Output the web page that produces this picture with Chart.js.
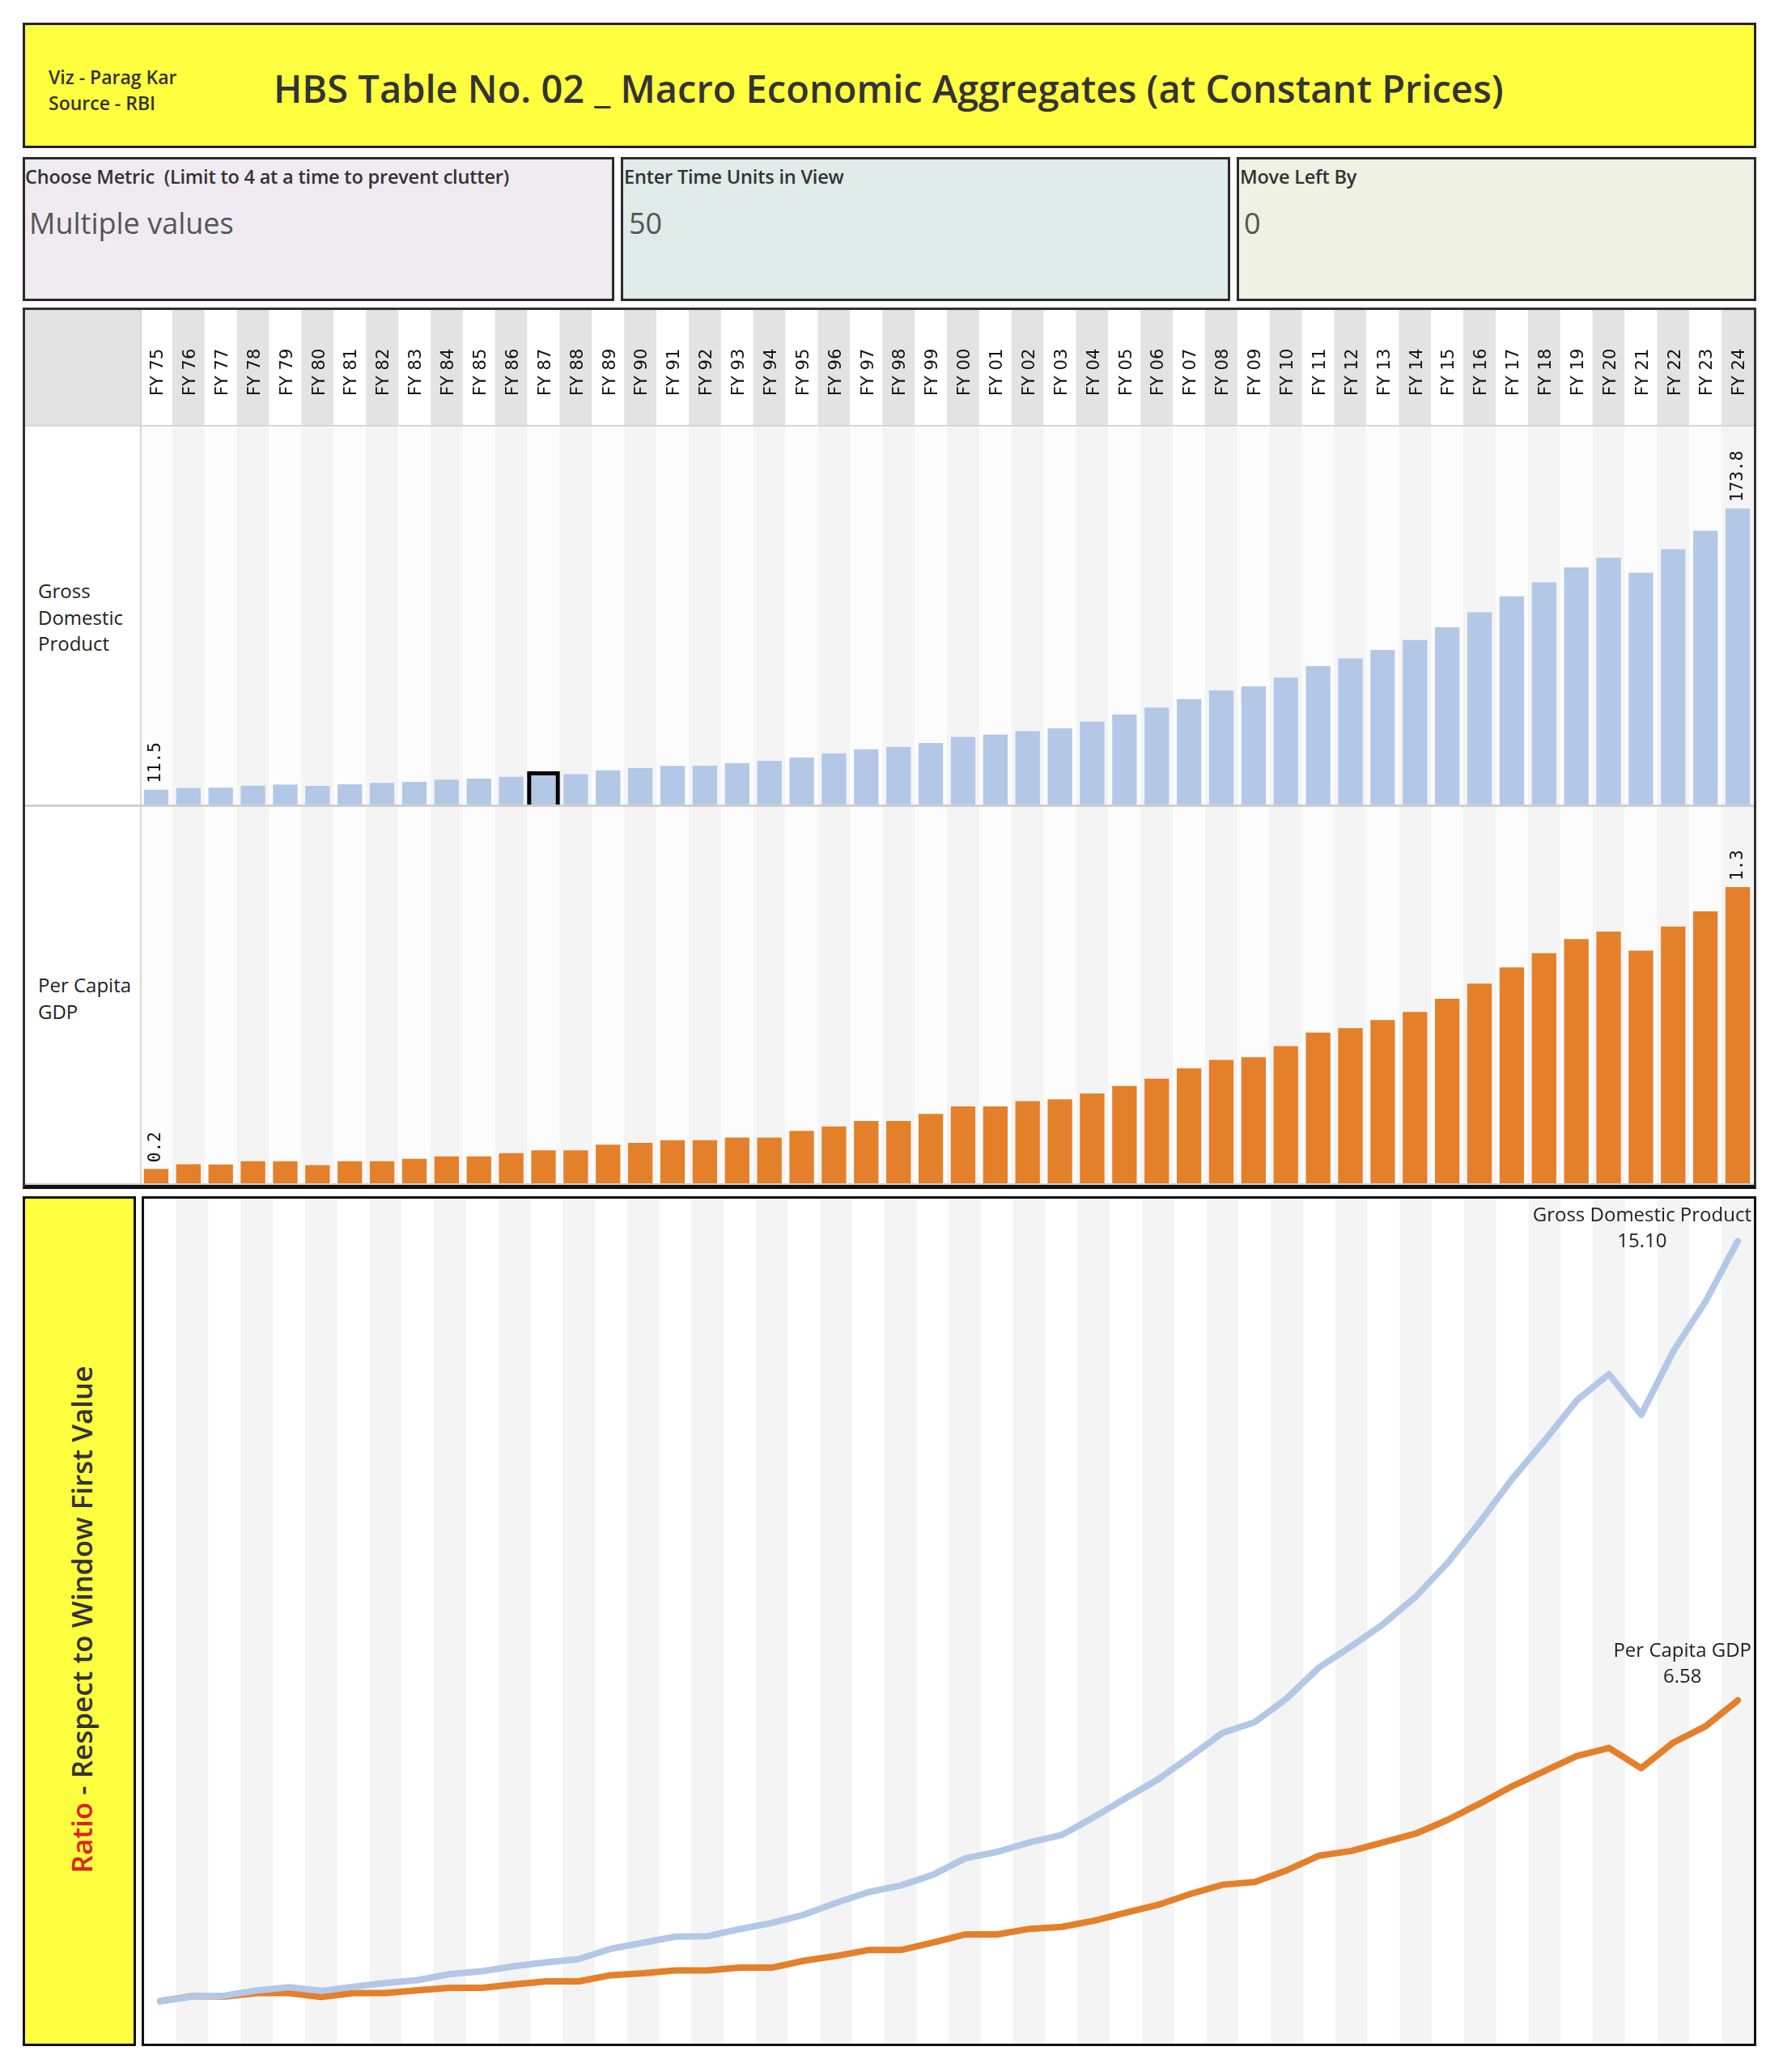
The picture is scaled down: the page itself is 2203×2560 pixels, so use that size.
<!DOCTYPE html>
<html>
<head>
<meta charset="utf-8">
<title>HBS Table No. 02 _ Macro Economic Aggregates</title>
<script src="https://cdn.jsdelivr.net/npm/chart.js@4.4.1/dist/chart.umd.min.js"></script>
<style>
  body { margin: 0; width: 2203px; height: 2560px; position: relative; background: #fff; font-family: 'Open Sans', sans-serif; color: #333; overflow: hidden; }
  .abs { position: absolute; box-sizing: border-box; }
  .filter { border: 3px solid #2b2b2b; top: 194px; height: 178px; }
  .flabel { position: absolute; left: 0; top: 6px; font-size: 23.5px; font-weight: 600; line-height: 30px; white-space: nowrap; letter-spacing: -0.2px; color: #333; }
  .fvalue { position: absolute; left: 5px; top: 55px; font-size: 36px; line-height: 48px; color: #555; }
  .rowlabel { position: absolute; left: 47px; font-size: 24px; line-height: 32.5px; color: #222; }
  canvas { position: absolute; }
</style>
</head>
<body>

<div class="abs" style="left:28px;top:28px;width:2142px;height:155px;background:#ffff40;border:3px solid #222;">
  <div style="position:absolute;left:29px;top:48px;font-size:23px;font-weight:600;line-height:32px;color:#333">Viz - Parag Kar<br>Source - RBI</div>
  <div style="position:absolute;left:307px;top:48px;font-size:47px;font-weight:600;line-height:60px;color:#333;white-space:nowrap">HBS Table No. 02 _ Macro Economic Aggregates (at Constant Prices)</div>
</div>

<div class="abs filter" style="left:28px;width:731px;background:#efebf1;">
  <div class="flabel">Choose Metric &nbsp;(Limit to 4 at a time to prevent clutter)</div>
  <div class="fvalue">Multiple values</div>
</div>
<div class="abs filter" style="left:767px;width:753px;background:#e1ebe9;">
  <div class="flabel" style="left:1px">Enter Time Units in View</div>
  <div class="fvalue" style="left:7px">50</div>
</div>
<div class="abs filter" style="left:1528px;width:642px;background:#eff1e3;">
  <div class="flabel" style="left:1px">Move Left By</div>
  <div class="fvalue" style="left:6px">0</div>
</div>

<!-- bar panel -->
<div class="abs" style="left:28px;top:380px;width:2142px;height:1089px;border:3px solid #333;border-bottom:5px solid #111;"></div>
<div class="abs" style="left:31px;top:383px;width:142px;height:143px;background:#e3e3e3;"></div>
<canvas id="gdpChart" width="1994" height="612" style="left:173px;top:383px"></canvas>
<canvas id="pcChart" width="1994" height="467" style="left:173px;top:996px"></canvas>
<div class="abs" style="left:173px;top:383px;width:2px;height:1081px;background:#d6d6d6;"></div>
<div class="abs" style="left:31px;top:525px;width:2136px;height:2px;background:#d6d6d6;"></div>
<div class="abs" style="left:31px;top:994px;width:2136px;height:3px;background:#cfcfcf;"></div>
<div class="abs" style="left:31px;top:1462px;width:2136px;height:2px;background:#cfcfcf;"></div>
<div class="rowlabel" style="top:714px">Gross<br>Domestic<br>Product</div>
<div class="rowlabel" style="top:1201px">Per Capita<br>GDP</div>

<!-- ratio panel -->
<div class="abs" style="left:28px;top:1478px;width:140px;height:1050px;background:#ffff40;border:3px solid #111;"></div>
<div class="abs" style="left:100px;top:2001px;transform:translate(-50%,-50%) rotate(-90deg);white-space:nowrap;font-size:35px;font-weight:600;color:#333;">
  <span style="color:#dd2222">Ratio</span> - Respect to Window First Value
</div>
<div class="abs" style="left:175px;top:1478px;width:1995px;height:1050px;border:3px solid #111;"></div>
<canvas id="ratioChart" width="1989" height="1044" style="left:178px;top:1481px"></canvas>

<script>
const years = ['FY 75', 'FY 76', 'FY 77', 'FY 78', 'FY 79', 'FY 80', 'FY 81', 'FY 82', 'FY 83', 'FY 84',
    'FY 85', 'FY 86', 'FY 87', 'FY 88', 'FY 89', 'FY 90', 'FY 91', 'FY 92', 'FY 93', 'FY 94',
    'FY 95', 'FY 96', 'FY 97', 'FY 98', 'FY 99', 'FY 00', 'FY 01', 'FY 02', 'FY 03', 'FY 04',
    'FY 05', 'FY 06', 'FY 07', 'FY 08', 'FY 09', 'FY 10', 'FY 11', 'FY 12', 'FY 13', 'FY 14',
    'FY 15', 'FY 16', 'FY 17', 'FY 18', 'FY 19', 'FY 20', 'FY 21', 'FY 22', 'FY 23', 'FY 24']

// Gross Domestic Product, constant prices
const gdp = [11.51, 12.5, 12.7, 13.8, 14.5, 13.7, 14.6, 15.4, 16.0, 17.3,
    17.9, 19.0, 19.8, 20.5, 22.7, 24.0, 25.3, 25.4, 26.9, 28.2,
    30.0, 32.5, 34.8, 36.2, 38.5, 42.0, 43.4, 45.4, 47.0, 50.8,
    54.9, 58.9, 63.8, 68.8, 71.1, 76.2, 82.8, 87.3, 92.1, 97.9,
    105.2, 113.9, 123.1, 131.2, 139.8, 145.4, 136.7, 150.3, 160.9, 173.8]

// Per Capita GDP, constant prices
const perCapita = [0.193, 0.211, 0.210, 0.222, 0.222, 0.208, 0.222, 0.222, 0.232, 0.241,
    0.241, 0.253, 0.264, 0.264, 0.286, 0.293, 0.303, 0.303, 0.313, 0.313,
    0.338, 0.355, 0.376, 0.376, 0.403, 0.432, 0.432, 0.452, 0.459, 0.481,
    0.510, 0.538, 0.577, 0.610, 0.620, 0.662, 0.714, 0.731, 0.762, 0.793,
    0.843, 0.901, 0.963, 1.017, 1.071, 1.100, 1.027, 1.119, 1.177, 1.270]

const selectedYear = 'FY 87'

const gdpColor = '#b3c8e7'
const pcColor = '#e4802a'

Chart.defaults.font.family = "'Open Sans', sans-serif"

// alternating column bands
const stripes = {
    id: 'stripes',
    beforeDraw(chart, args, opts) {
        const { ctx, chartArea, scales } = chart
        const x = scales.x
        const n = chart.data.labels.length
        const w = x.getPixelForValue(1) - x.getPixelForValue(0)
        ctx.save()
        for (let i = 0; i < n; i++) {
            const left = x.getPixelForValue(i) - w / 2
            if (opts.header) {
                ctx.fillStyle = i % 2 ? '#e3e3e3' : '#ffffff'
                ctx.fillRect(left, 0, w, chartArea.top)
            }
            ctx.fillStyle = i % 2 ? '#f4f4f4' : (opts.even || '#fcfcfc')
            ctx.fillRect(left, chartArea.top, w, chartArea.bottom - chartArea.top)
        }
        ctx.restore()
    }
}

// value labels on first and last bar
const endValues = {
    id: 'endValues',
    afterDatasetsDraw(chart) {
        const { ctx } = chart
        const meta = chart.getDatasetMeta(0)
        const data = chart.data.datasets[0].data
        ctx.save()
        ctx.font = '21px "DejaVu Sans Mono"'
        ctx.fillStyle = '#111'
        ctx.textAlign = 'left'
        ctx.textBaseline = 'middle'
        ;[0, data.length - 1].forEach(i => {
            const bar = meta.data[i]
            ctx.save()
            ctx.translate(bar.x, bar.y - 8)
            ctx.rotate(-Math.PI / 2)
            ctx.fillText(data[i].toFixed(1), 0, 0)
            ctx.restore()
        })
        ctx.restore()
    }
}

// black outline on the selected mark
const selectedBar = {
    id: 'selectedBar',
    afterDatasetsDraw(chart, args, opts) {
        if (opts.index == null) return
        const bar = chart.getDatasetMeta(0).data[opts.index]
        const { ctx } = chart
        ctx.save()
        ctx.strokeStyle = '#000'
        ctx.lineWidth = 5
        ctx.strokeRect(bar.x - bar.width / 2 - 2.5, bar.y - 2.5, bar.width + 5, bar.base - bar.y + 1)
        ctx.restore()
    }
}

function barChart(id, values, color, yMin, yMax, header, selected) {
    return new Chart(document.getElementById(id), {
        type: 'bar',
        data: {
            labels: years,
            datasets: [{
                data: values,
                backgroundColor: color,
                categoryPercentage: 1,
                barPercentage: 0.76
            }]
        },
        options: {
            responsive: false,
            animation: false,
            devicePixelRatio: 1,
            layout: { padding: 0 },
            plugins: {
                legend: { display: false },
                tooltip: { enabled: false },
                stripes: { header: header },
                selectedBar: { index: selected }
            },
            scales: {
                x: {
                    display: header,
                    position: 'top',
                    offset: true,
                    grid: { display: false, drawTicks: false },
                    border: { display: false },
                    ticks: {
                        autoSkip: false,
                        minRotation: 90,
                        maxRotation: 90,
                        padding: 37,
                        labelOffset: 28,
                        color: '#111',
                        font: { family: "'DejaVu Sans'", size: 21 }
                    },
                    afterFit: s => {
                        s.height = header ? 143 : 0
                        s.paddingLeft = 0
                        s.paddingRight = 0
                    }
                },
                y: { display: false, min: yMin, max: yMax }
            }
        },
        plugins: [stripes, endValues, selectedBar]
    })
}

barChart('gdpChart', gdp, gdpColor, 2.5, 221.5, true, years.indexOf(selectedYear))
barChart('pcChart', perCapita, pcColor, 0.135, 1.579, false, null)

// ratio to the first value in the window
const gdpRatio = gdp.map(v => v / gdp[0])
const pcRatio = perCapita.map(v => v / perCapita[0])

const lineLabels = {
    id: 'lineLabels',
    afterDatasetsDraw(chart) {
        const { ctx, chartArea } = chart
        ctx.save()
        ctx.font = '500 24px "Open Sans"'
        ctx.fillStyle = '#222'
        ctx.textAlign = 'center'
        ctx.textBaseline = 'middle'
        chart.data.datasets.forEach((ds, d) => {
            const last = ds.data.length - 1
            const pt = chart.getDatasetMeta(d).data[last]
            const lines = [ds.label, ds.data[last].toFixed(2)]
            const w = Math.max(...lines.map(t => ctx.measureText(t).width))
            const cx = chartArea.right - 3 - w / 2
            const y1 = Math.max(pt.y - 61, chartArea.top + 21)
            ctx.fillText(lines[0], cx, y1)
            ctx.fillText(lines[1], cx, y1 + 32)
        })
        ctx.restore()
    }
}

new Chart(document.getElementById('ratioChart'), {
    type: 'line',
    data: {
        labels: years,
        datasets: [{
            label: 'Gross Domestic Product',
            data: gdpRatio,
            borderColor: gdpColor,
            borderWidth: 8,
            pointRadius: 0,
            tension: 0,
            borderJoinStyle: 'round',
            borderCapStyle: 'round'
        }, {
            label: 'Per Capita GDP',
            data: pcRatio,
            borderColor: pcColor,
            borderWidth: 8,
            pointRadius: 0,
            tension: 0,
            borderJoinStyle: 'round',
            borderCapStyle: 'round'
        }]
    },
    options: {
        responsive: false,
        animation: false,
        devicePixelRatio: 1,
        layout: { padding: 0 },
        plugins: {
            legend: { display: false },
            tooltip: { enabled: false },
            stripes: { header: false, even: '#ffffff' }
        },
        scales: {
            x: { display: false, offset: true },
            y: { display: false, min: 0.212, max: 15.887 }
        }
    },
    plugins: [stripes, lineLabels]
})
</script>
</body>
</html>
